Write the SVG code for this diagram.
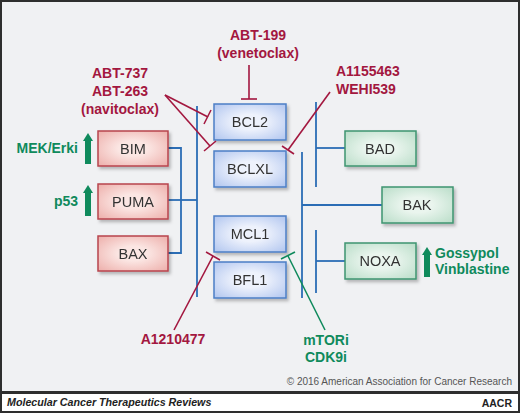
<svg xmlns="http://www.w3.org/2000/svg" width="520" height="413" viewBox="0 0 520 413">
<style>
.box{stroke-width:1.5}
.r{fill:url(#gr);stroke:#b8454e}
.b{fill:url(#gb);stroke:#4c7fc6}
.g{fill:url(#gg);stroke:#3e9570}
.bt{font-family:"Liberation Sans",Arial,sans-serif;font-size:14.5px;fill:#333;text-anchor:middle}
.red{font-family:"Liberation Sans",Arial,sans-serif;font-size:14px;font-weight:bold;fill:#a3173f}
.grn{font-family:"Liberation Sans",Arial,sans-serif;font-size:14px;font-weight:bold;fill:#0f8a5c}
.conn line,.conn polyline{stroke:#2b6db5;stroke-width:1.8;fill:none}
.inh line{stroke:#a3173f;stroke-width:1.6}
.inhg line{stroke:#0f8a5c;stroke-width:1.6}
</style>
<defs>
<radialGradient id="gr" cx="50%" cy="50%" r="70%"><stop offset="0.3" stop-color="#fbe6e3"/><stop offset="1" stop-color="#edaeaa"/></radialGradient>
<radialGradient id="gb" cx="50%" cy="50%" r="70%"><stop offset="0.3" stop-color="#eef2fc"/><stop offset="1" stop-color="#b0c5ef"/></radialGradient>
<radialGradient id="gg" cx="50%" cy="50%" r="70%"><stop offset="0.3" stop-color="#eaf5ee"/><stop offset="1" stop-color="#b9ddc8"/></radialGradient>
<filter id="sh" x="-20%" y="-20%" width="150%" height="160%"><feDropShadow dx="2" dy="2.5" stdDeviation="1.8" flood-color="#000" flood-opacity="0.25"/></filter>
</defs>
<rect x="0" y="0" width="520" height="413" fill="#2e2e2e"/>
<rect x="2" y="2" width="516" height="389" fill="#f0f1f3"/>
<rect x="2" y="394" width="516" height="17" fill="#ffffff"/>

<g class="conn">
<polyline points="168,148 181,148 181,253 168,253"/>
<line x1="168" y1="200" x2="197" y2="200"/>
<line x1="197" y1="106" x2="197" y2="297"/>
<line x1="302" y1="152" x2="302" y2="298"/>
<line x1="316" y1="102" x2="316" y2="187"/>
<line x1="316" y1="148" x2="345" y2="148"/>
<line x1="302" y1="205" x2="382" y2="205"/>
<line x1="316" y1="230" x2="316" y2="293"/>
<line x1="316" y1="261" x2="345" y2="261"/>
</g>

<g id="node-BIM" filter="url(#sh)"><rect class="box r" x="98" y="131" width="70" height="35"/><text class="bt" x="133" y="154">BIM</text></g>
<g id="node-PUMA" filter="url(#sh)"><rect class="box r" x="98" y="184" width="70" height="35"/><text class="bt" x="133" y="207">PUMA</text></g>
<g id="node-BAX" filter="url(#sh)"><rect class="box r" x="98" y="236" width="70" height="35"/><text class="bt" x="133" y="259">BAX</text></g>

<g id="node-BCL2" filter="url(#sh)"><rect class="box b" x="214" y="104" width="72" height="36"/><text class="bt" x="250" y="127">BCL2</text></g>
<g id="node-BCLXL" filter="url(#sh)"><rect class="box b" x="214" y="151" width="72" height="36"/><text class="bt" x="250" y="174">BCLXL</text></g>
<g id="node-MCL1" filter="url(#sh)"><rect class="box b" x="214" y="216" width="72" height="36"/><text class="bt" x="250" y="239">MCL1</text></g>
<g id="node-BFL1" filter="url(#sh)"><rect class="box b" x="214" y="262" width="72" height="36"/><text class="bt" x="250" y="285">BFL1</text></g>

<g id="node-BAD" filter="url(#sh)"><rect class="box g" x="345" y="131" width="71" height="35"/><text class="bt" x="380" y="154">BAD</text></g>
<g id="node-BAK" filter="url(#sh)"><rect class="box g" x="382" y="187" width="71" height="36"/><text class="bt" x="417" y="210">BAK</text></g>
<g id="node-NOXA" filter="url(#sh)"><rect class="box g" x="345" y="243" width="71" height="36"/><text class="bt" x="380" y="266">NOXA</text></g>

<g id="inhibitors" class="inh">
<line x1="249" y1="65" x2="249" y2="99"/><line x1="241" y1="99" x2="257" y2="99"/>
<line x1="165" y1="95" x2="208" y2="117"/><line x1="204" y1="124" x2="211" y2="110"/>
<line x1="165" y1="95" x2="210" y2="146"/><line x1="204" y1="151" x2="216" y2="141"/>
<line x1="330" y1="92" x2="288" y2="150"/><line x1="282" y1="146" x2="294" y2="154"/>
<line x1="174" y1="330" x2="213" y2="256"/><line x1="206" y1="252" x2="220" y2="260"/>
</g>
<g id="inhibitors-green" class="inhg">
<line x1="325" y1="330" x2="288" y2="256"/><line x1="281" y1="259" x2="295" y2="252"/>
</g>

<g id="label-venetoclax"><text class="red" text-anchor="middle" x="258" y="40">ABT-199</text><text class="red" text-anchor="middle" x="258" y="58">(venetoclax)</text></g>
<g id="label-navitoclax"><text class="red" text-anchor="middle" x="120" y="78">ABT-737</text><text class="red" text-anchor="middle" x="120" y="96">ABT-263</text><text class="red" text-anchor="middle" x="120" y="114">(navitoclax)</text></g>
<g id="label-A1155463"><text class="red" x="336" y="76">A1155463</text><text class="red" x="336" y="94">WEHI539</text></g>
<g id="label-A1210477"><text class="red" text-anchor="middle" x="173" y="344">A1210477</text></g>
<g id="label-mTORi"><text class="grn" text-anchor="middle" x="326" y="345">mTORi</text><text class="grn" text-anchor="middle" x="326" y="362">CDK9i</text></g>

<g id="up-MEK"><text class="grn" text-anchor="end" x="78" y="153">MEK/Erki</text><polygon fill="#0f8a5c" points="88,133 93,141 91,141 91,164 85,164 85,141 83,141"/></g>
<g id="up-p53"><text class="grn" text-anchor="end" x="78" y="206">p53</text><polygon fill="#0f8a5c" points="88,185 93,193 91,193 91,216 85,216 85,193 83,193"/></g>
<g id="up-Gossypol"><polygon fill="#0f8a5c" points="427,247 432,255 430,255 430,277 424,277 424,255 422,255"/><text class="grn" x="435" y="258">Gossypol</text><text class="grn" x="435" y="274">Vinblastine</text></g>

<text x="512" y="385" text-anchor="end" font-family="Liberation Sans,Arial,sans-serif" font-size="10" fill="#555">© 2016 American Association for Cancer Research</text>
<text x="7" y="406" font-family="Liberation Sans,Arial,sans-serif" font-size="10.7" font-weight="bold" font-style="italic" fill="#222">Molecular Cancer Therapeutics Reviews</text>
<text x="512" y="407" text-anchor="end" font-family="Liberation Sans,Arial,sans-serif" font-size="10.5" font-weight="bold" fill="#222">AACR</text>
</svg>
